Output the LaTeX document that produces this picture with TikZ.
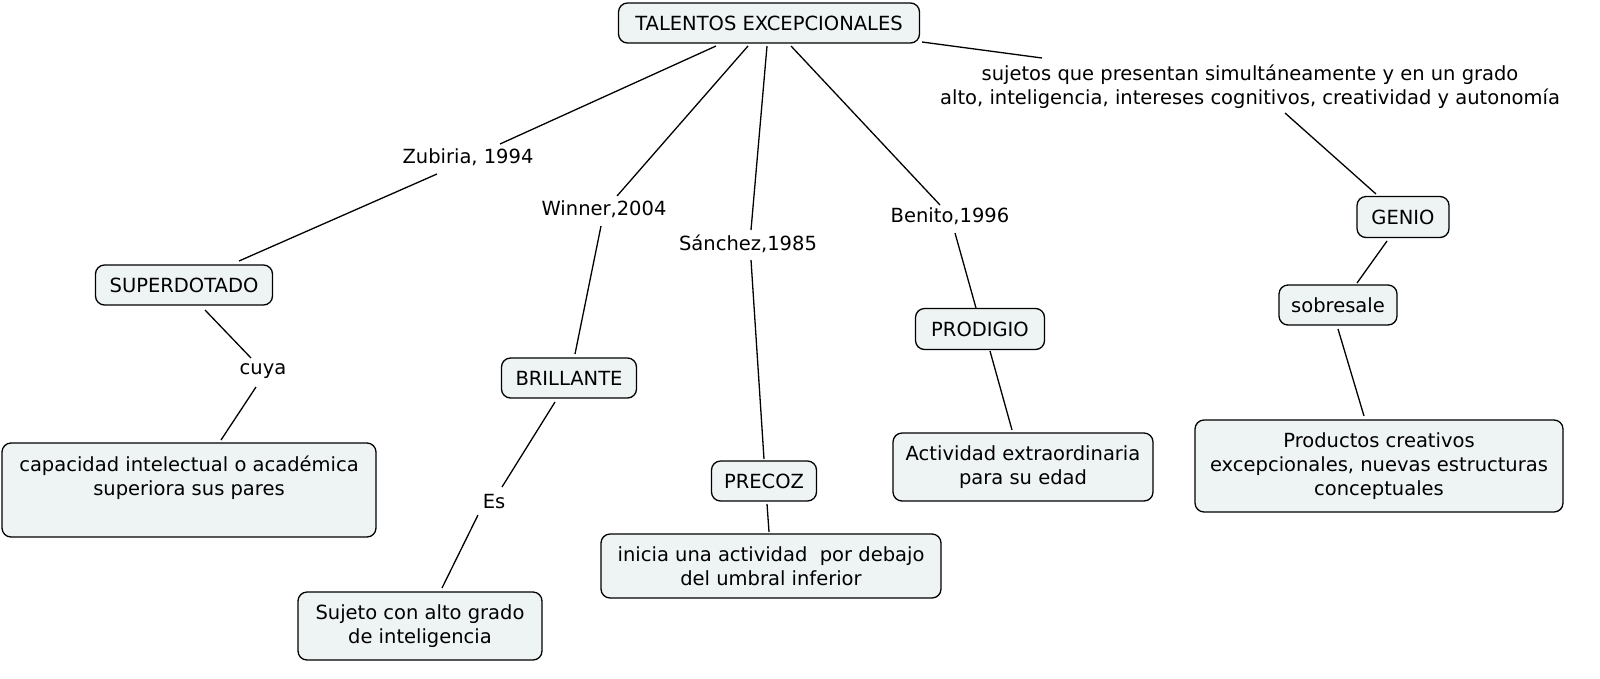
\documentclass[tikz,border=0pt]{standalone}
\usepackage{fontspec}
\setmainfont{DejaVu Sans}
\definecolor{boxfill}{HTML}{EEF3F4}
\begin{document}
\begin{tikzpicture}[x=1pt,y=-1pt,
  box/.style={draw=black,fill=boxfill,rounded corners=9pt,line width=1.3pt,align=center,inner sep=0pt,font=\fontsize{19.5}{24}\selectfont},
  lbl/.style={align=center,inner sep=3pt,font=\fontsize{19.5}{24}\selectfont},
  ln/.style={line width=1.3pt}]
\useasboundingbox (0,0) rectangle (1600,678);
\node[box,minimum width=301pt,minimum height=40pt] (t) at (769,23) {TALENTOS EXCEPCIONALES};
\node[box,minimum width=177pt,minimum height=40pt] (sup) at (184,285) {SUPERDOTADO};
\node[box,minimum width=374pt,minimum height=94pt] (cap) at (189,490) {};
\node[lbl] (captext) at (189,478) {capacidad intelectual o académica\\superiora sus pares};
\node[box,minimum width=135pt,minimum height=40pt] (bri) at (569,378) {BRILLANTE};
\node[box,minimum width=244pt,minimum height=68pt] (suj) at (420,626) {Sujeto con alto grado\\de inteligencia};
\node[box,minimum width=105pt,minimum height=40pt] (pre) at (764,481) {PRECOZ};
\node[box,minimum width=340pt,minimum height=64pt] (ini) at (771,566) {inicia una actividad\ \ por debajo\\del umbral inferior};
\node[box,minimum width=129pt,minimum height=41pt] (pro) at (980,329) {PRODIGIO};
\node[box,minimum width=260pt,minimum height=68pt] (act) at (1023,467) {Actividad extraordinaria\\para su edad};
\node[box,minimum width=92pt,minimum height=41pt] (gen) at (1403,217) {GENIO};
\node[box,minimum width=118pt,minimum height=40pt] (sob) at (1338,305) {sobresale};
\node[box,minimum width=368pt,minimum height=92pt] (prod) at (1379,466) {Productos creativos\\excepcionales, nuevas estructuras\\conceptuales};
\node[lbl] (zu) at (468,157) {Zubiria, 1994};
\node[lbl] (wi) at (604,209) {Winner,2004};
\node[lbl] (sa) at (748,244) {Sánchez,1985};
\node[lbl] (be) at (950,216) {Benito,1996};
\node[lbl] (sj) at (1250,87) {sujetos que presentan simultáneamente y en un grado\\alto, inteligencia, intereses cognitivos, creatividad y autonomía};
\node[lbl] (cu) at (263,371) {cuya};
\node[lbl] (es) at (494,502) {Es};
\draw[ln] (716,46) -- (500,144); \draw[ln] (437,174) -- (239,261);
\draw[ln] (748,46) -- (617,196); \draw[ln] (601,226) -- (575,354);
\draw[ln] (767,46) -- (751,230); \draw[ln] (751,260) -- (764,459);
\draw[ln] (791,46) -- (940,205); \draw[ln] (955,233) -- (976,308);
\draw[ln] (922,42) -- (1042,58); \draw[ln] (1285,113) -- (1376,194);
\draw[ln] (205,310) -- (251,358); \draw[ln] (256,387) -- (221,440);
\draw[ln] (555,402) -- (502,487); \draw[ln] (478,515) -- (442,588);
\draw[ln] (767,504) -- (769,532);
\draw[ln] (990,351) -- (1012,430);
\draw[ln] (1387,241) -- (1357,283);
\draw[ln] (1338,329) -- (1364,416);
\end{tikzpicture}
\end{document}
